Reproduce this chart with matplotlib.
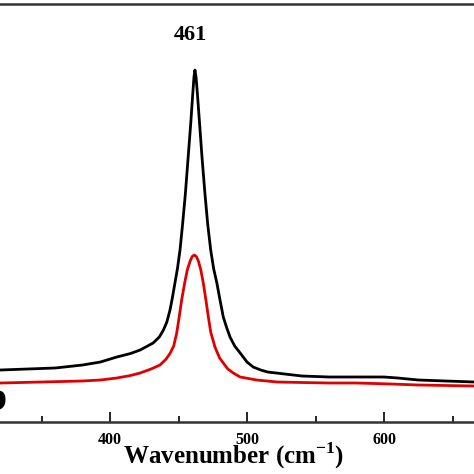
import matplotlib
matplotlib.use("Agg")
import matplotlib.pyplot as plt

plt.rcParams['font.family'] = ['Liberation Serif', 'DejaVu Serif']
plt.rcParams['mathtext.fontset'] = 'custom'
plt.rcParams['mathtext.rm'] = 'Liberation Serif:bold'
plt.rcParams['mathtext.bf'] = 'Liberation Serif:bold'

# Black spectrum
black_wn = [320, 340, 360, 380, 393, 405, 415, 422, 431.5, 436, 439, 441.5, 443.8, 445.5,
            447.4, 449.3, 451.1, 453, 455, 457, 459, 460.5, 461.3, 462, 462.8, 463.7, 465.3,
            467.2, 469.2, 471.3, 473.5, 475.7, 478, 480.3, 482.7, 485, 487.6, 491, 495, 500,
            504.5, 510, 515, 540, 560, 580, 600, 610, 625, 645, 666]
black_int = [52, 53, 54, 57, 60, 65, 68.5, 72, 79, 85, 92, 100, 112, 124,
             139, 154, 172, 198, 228, 264, 300, 330, 345, 352, 345, 330, 300,
             264, 230, 198, 172, 153, 139, 122, 105, 95, 85, 76, 69, 60,
             55, 52, 50, 46, 45, 45, 45, 44, 42, 41, 40]

# Red spectrum
red_wn = [320, 350, 380, 393, 405, 415, 422, 430, 436.5, 441, 444, 446.5, 448.7, 450.5, 452.3,
          454.5, 456.4, 458.5, 460, 461.5, 463, 464.5, 466.3, 468.1, 470, 471.8, 473.5, 476.6,
          480, 482.7, 486, 490, 495, 507, 522, 540, 560, 580, 605, 625, 645, 666]
red_int = [39, 40, 41, 42, 44, 46.5, 49, 53, 57, 63, 69, 76, 89, 105, 122,
           139, 152, 161, 165.5, 167, 165.5, 161, 152, 139, 122, 105, 90, 75,
           64, 59, 53, 49, 45, 42, 40, 39.5, 39, 39, 38, 37, 36.5, 36]

peak_label = "461"
xticks_major = [400, 500, 600]
xticks_minor = [350, 450, 550, 650]

fig = plt.figure(figsize=(4.74, 4.74), dpi=100)
ax = fig.add_axes([-27 / 474, 52 / 474, 520.6 / 474, 418 / 474])
ax.plot(black_wn, black_int, color='black', lw=2.0, solid_joinstyle='round')
ax.plot(red_wn, red_int, color='#e00000', lw=2.0, solid_joinstyle='round')
ax.set_xlim(300, 680)
ax.set_ylim(0, 418)

ax.set_xticks(xticks_major)
ax.set_xticks(xticks_minor, minor=True)
ax.set_yticks([])
ax.tick_params(axis='x', which='major', direction='in', length=7, width=1.2, pad=7,
               labelsize=11.5)
ax.tick_params(axis='x', which='minor', direction='in', length=4, width=1.2)
for lab in ax.get_xticklabels():
    lab.set_fontweight('bold')
for s in ['top', 'bottom', 'left', 'right']:
    ax.spines[s].set_linewidth(1.8)
    ax.spines[s].set_color('#333333')

ax.set_xlabel(r'Wavenumber (cm$^{\mathbf{-1}}$)', fontsize=18, fontweight='bold', labelpad=-5)
ax.text(458.4, 387, peak_label, fontsize=16, fontweight='bold', ha='center', va='center')
fig.text(7 / 474, 1 - 400 / 474, 'b', fontsize=30, fontweight='bold', ha='right', va='center')

fig.savefig('out.png', dpi=100)
